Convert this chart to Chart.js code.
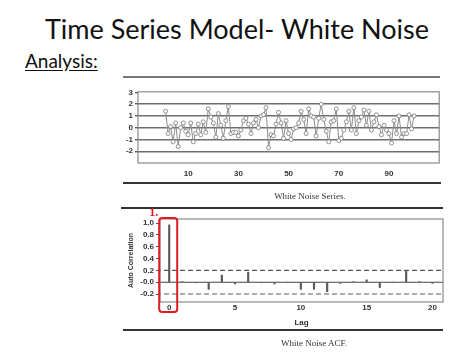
<!DOCTYPE html>
<html><head><meta charset="utf-8">
<script src="https://cdn.jsdelivr.net/npm/chart.js@4/dist/chart.umd.min.js"></script>
<style>
html,body{margin:0;padding:0;background:#fff;width:474px;height:355px;overflow:hidden;position:relative}
.abs{position:absolute}
#title{left:0;top:15px;width:474px;text-align:center;font-family:Lato,"Open Sans",sans-serif;font-size:27px;line-height:27px;color:#111;white-space:nowrap}
#analysis{left:25px;top:51px;font-family:Lato,"Open Sans",sans-serif;font-size:19px;line-height:19px;color:#111;text-decoration:underline;text-underline-offset:2px}
.hr{position:absolute;height:2px}
.cap{position:absolute;font-family:"Liberation Serif",serif;font-size:9px;color:#333;text-align:center;white-space:nowrap}
</style></head>
<body>
<div id="title" class="abs">Time Series Model- White Noise</div>
<div id="analysis" class="abs">Analysis:</div>
<div class="hr" style="left:123px;top:76px;width:317px;background:#777"></div>
<div class="abs" style="left:116px;top:85px;width:328px;height:98px"><canvas id="c1"></canvas></div>
<div class="hr" style="left:123px;top:182px;width:318px;background:#333"></div>
<div class="cap" style="left:250px;top:191px;width:120px">White Noise Series.</div>
<div class="hr" style="left:121px;top:207px;width:322px;background:#333"></div>
<div class="abs" style="left:120px;top:206px;width:327px;height:122px"><canvas id="c2"></canvas></div>
<div class="hr" style="left:123px;top:329px;width:320px;background:#333"></div>
<div class="cap" style="left:254px;top:338px;width:120px">White Noise ACF.</div>
<script>
// ---- data ----
const noiseValues = [1.4,-0.5,0.1,-1.2,0.4,-1.6,0.0,0.4,-0.3,-0.6,
  0.4,-1.2,-0.5,0.3,-0.6,0.5,-0.4,1.6,0.9,0.4,
  -0.8,1.2,0.2,-0.9,0.6,1.8,-0.5,-0.4,-0.4,-0.7,
  -0.2,0.6,0.8,0.3,-0.5,0.4,0.7,0.0,1.0,1.1,
  1.7,-1.7,-0.6,-0.7,0.3,1.3,0.4,-0.9,0.6,-0.5,
  -1.0,-0.1,0.0,0.4,1.4,0.7,-0.5,1.6,1.0,0.9,
  -0.7,0.8,2.0,0.7,-0.3,-1.2,0.5,0.6,1.6,-1.1,
  -0.9,-0.2,0.5,1.4,-0.2,1.7,-0.5,0.6,0.9,1.5,
  0.2,1.4,-0.2,0.5,1.1,0.1,-0.6,0.2,-0.2,-0.5,
  -1.3,0.6,-0.5,1.0,-0.8,-0.5,-0.5,1.1,-0.1,1.0];
const seriesTicks = [10,30,50,70,90];
const seriesYTicks = [-2,-1,0,1,2,3];
const lags = [0,1,2,3,4,5,6,7,8,9,10,11,12,13,14,15,16,17,18,19,20];
const acfValues = [0.97,0.01,-0.01,-0.12,0.12,-0.03,0.17,-0.01,-0.03,0.0,-0.12,-0.12,-0.16,-0.02,0.01,0.04,-0.09,0.0,0.20,0.01,-0.02];
const lagTicks = [0,5,10,15,20];
const acfYTicks = [-0.2,0,0.2,0.4,0.6,0.8,1.0];
const confBand = [0.2,-0.2];
const highlightLag = 0;

const tickFont = {family:'"Liberation Sans", Arial, sans-serif', size:8, weight:'bold'};
const boxPlugin = {id:'box', afterDatasetsDraw(c){const a=c.chartArea,ctx=c.ctx;ctx.save();ctx.strokeStyle='#8a8a8a';ctx.lineWidth=1.2;ctx.strokeRect(a.left,a.top,a.right-a.left,a.bottom-a.top);ctx.restore();}};

new Chart(document.getElementById('c1'), {
  type:'line',
  data:{datasets:[{data:noiseValues.map((v,i)=>({x:i+1,y:v})),borderColor:'#8c8c8c',borderWidth:1,
    pointRadius:2,pointBackgroundColor:'#fff',pointBorderColor:'#777',pointBorderWidth:0.8,tension:0}]},
  options:{animation:false,responsive:true,maintainAspectRatio:false,
    layout:{padding:{top:4,right:4,left:0,bottom:0}},
    plugins:{legend:{display:false},tooltip:{enabled:false}},
    scales:{
      x:{type:'linear',min:-10,max:110,afterBuildTicks(s){s.ticks=seriesTicks.map(v=>({value:v}));},
        afterFit(s){s.height=20;},
        grid:{display:false,drawTicks:false},border:{display:false},
        ticks:{font:tickFont,color:'#333',padding:6,maxRotation:0}},
      y:{min:-3,max:3.05,afterBuildTicks(s){s.ticks=seriesYTicks.map(v=>({value:v}));},
        afterFit(s){s.width=22;},
        grid:{color:(ctx)=>ctx.tick && ctx.tick.value===3?'rgba(0,0,0,0)':'#6e6e6e',lineWidth:1.4,drawTicks:true,tickLength:3,tickColor:'#555'},
        border:{display:false},
        ticks:{font:tickFont,color:'#333',padding:2,callback:v=>String(v)}}
    }},
  plugins:[boxPlugin]
});

const hlPlugin = {id:'hl', afterDraw(c){
  const x=c.scales.x, a=c.chartArea, ctx=c.ctx;
  const cx=x.getPixelForValue(highlightLag);
  ctx.save();ctx.strokeStyle='#e01b24';ctx.lineWidth=2;
  ctx.beginPath();ctx.roundRect(cx-10,a.top-1,18,a.bottom-a.top+11,3);ctx.stroke();
  ctx.fillStyle='#e01b24';ctx.font='bold 12px "Liberation Serif", serif';ctx.textBaseline='bottom';
  ctx.fillText('1.',cx-20,a.top);ctx.restore();
}};

new Chart(document.getElementById('c2'), {
  type:'bar',
  data:{datasets:[
    {type:'bar',data:lags.map((l,i)=>({x:l,y:acfValues[i]})),backgroundColor:'#5a5a5a',barThickness:1.5,borderWidth:0},
    {type:'line',data:[{x:-1,y:confBand[0]},{x:22,y:confBand[0]}],borderColor:'#555',borderWidth:1.1,borderDash:[5,3],pointRadius:0},
    {type:'line',data:[{x:-1,y:confBand[1]},{x:22,y:confBand[1]}],borderColor:'#555',borderWidth:1.1,borderDash:[5,3],pointRadius:0},
    {type:'line',data:[{x:-1,y:0},{x:22,y:0}],borderColor:'#444',borderWidth:1.1,pointRadius:0}
  ]},
  options:{animation:false,responsive:true,maintainAspectRatio:false,
    layout:{padding:{top:13,right:4,left:7,bottom:0}},
    plugins:{legend:{display:false},tooltip:{enabled:false}},
    scales:{
      x:{type:'linear',min:-0.7,max:20.8,offset:false,afterBuildTicks(s){s.ticks=lagTicks.map(v=>({value:v}));},
        afterFit(s){s.height=26;},
        grid:{display:false,drawTicks:false},border:{display:false},
        ticks:{font:tickFont,color:'#333',padding:1,maxRotation:0},
        title:{display:true,text:'Lag',font:tickFont,color:'#333',padding:{top:0,bottom:0}}},
      y:{min:-0.335,max:1.07,afterBuildTicks(s){s.ticks=acfYTicks.map(v=>({value:v}));},
        afterFit(s){s.width=33;},
        grid:{drawOnChartArea:false,drawTicks:true,tickLength:4,tickColor:'#555'},border:{display:false},
        ticks:{font:tickFont,color:'#333',padding:2,callback:v=>Math.abs(v)<1e-9?'-0.0':v.toFixed(1)},
        title:{display:true,text:'Auto Correlation',font:{family:'"Liberation Sans Narrow", "Liberation Sans", Arial, sans-serif',size:7,weight:'bold'},color:'#333',padding:0}}
    }},
  plugins:[boxPlugin,hlPlugin]
});
</script>
</body></html>
